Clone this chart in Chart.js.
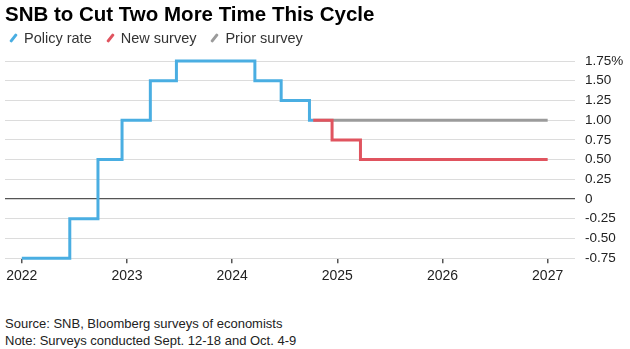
<!DOCTYPE html>
<html>
<head>
<meta charset="utf-8">
<script src="https://cdn.jsdelivr.net/npm/chart.js@4.4.1/dist/chart.umd.min.js"></script>
<style>
  body { margin: 0; background: #fff; font-family: "Liberation Sans", Arial, sans-serif; }
  #wrap { position: relative; width: 630px; height: 290px; }
  #title { position: absolute; left: 5px; top: 2px; font-size: 20.5px; font-weight: bold; color: #000; }
  #legend { position: absolute; left: 9px; top: 30px; font-size: 14.5px; color: #333; display: flex; }
  #legend span.item { display: flex; align-items: center; margin-right: 14px; }
  #legend i { display: inline-block; width: 3px; height: 10px; margin: 0 9px 0 3px; transform: rotate(38deg); border-radius: 1px; }
  #foot { position: absolute; left: 5px; top: 315px; font-size: 13px; line-height: 17px; color: #222; }
</style>
</head>
<body>
<div id="wrap"><canvas id="chart"></canvas></div>
<div id="title">SNB to Cut Two More Time This Cycle</div>
<div id="legend"></div>
<div id="foot">Source: SNB, Bloomberg surveys of economists<br>Note: Surveys conducted Sept. 12-18 and Oct. 4-9</div>
<script>
// policy rate steps (decimal years)
const policyDates = [2022.0, 2022.456, 2022.724, 2022.953, 2023.222, 2023.47, 2024.216, 2024.466, 2024.735, 2024.77];
const policyRates = [-0.75, -0.25, 0.5, 1.0, 1.5, 1.75, 1.5, 1.25, 1.0, 1.0];

const newDates = [2024.77, 2024.95, 2025.22, 2027.0];
const newRates = [1.0, 0.75, 0.5, 0.5];

const priorDates = [2024.77, 2027.0];
const priorRates = [1.0, 1.0];

const years = [2022, 2023, 2024, 2025, 2026, 2027];
const yTicks = [-0.75, -0.5, -0.25, 0, 0.25, 0.5, 0.75, 1.0, 1.25, 1.5, 1.75];

const labels = ["Policy rate", "New survey", "Prior survey"];
const colors = ["#4aaee2", "#e0545f", "#9b9b9b"];

const toPoints = (xs, ys) => xs.map((x, i) => ({ x: x, y: ys[i] }));

// legend
const legend = document.getElementById("legend");
labels.forEach((l, i) => {
  const s = document.createElement("span");
  s.className = "item";
  s.innerHTML = '<i style="background:' + colors[i] + '"></i>' + l;
  legend.appendChild(s);
});

new Chart(document.getElementById("chart"), {
  type: "line",
  data: {
    datasets: [
      { label: labels[0], data: toPoints(policyDates, policyRates), borderColor: colors[0] },
      { label: labels[1], data: toPoints(newDates, newRates), borderColor: colors[1] },
      { label: labels[2], data: toPoints(priorDates, priorRates), borderColor: colors[2] }
    ]
  },
  options: {
    responsive: true,
    maintainAspectRatio: false,
    animation: false,
    layout: { padding: { left: 5, right: 0, top: 61, bottom: 0 } },
    elements: {
      line: { borderWidth: 3, stepped: true, borderCapStyle: "butt", borderJoinStyle: "miter" },
      point: { radius: 0 }
    },
    datasets: { line: { clip: 4 } },
    plugins: {
      legend: { display: false },
      tooltip: { enabled: false }
    },
    scales: {
      x: {
        type: "linear",
        min: 2021.84,
        max: 2027.26,
        afterBuildTicks: (axis) => { axis.ticks = years.map(v => ({ value: v })); },
        grid: { drawOnChartArea: false, drawTicks: true, tickLength: 5, color: "#555", lineWidth: 1.5 },
        border: { display: false },
        ticks: {
          color: "#222",
          font: { family: "Liberation Sans", size: 14 },
          padding: 5,
          maxRotation: 0,
          callback: (v) => String(v)
        }
      },
      y: {
        position: "right",
        min: -0.75,
        max: 1.75,
        afterBuildTicks: (axis) => { axis.ticks = yTicks.map(v => ({ value: v })); },
        afterFit: (axis) => { axis.width = 55; },
        grid: {
          drawTicks: false,
          color: (ctx) => ctx.tick && ctx.tick.value === 0 ? "#555" : "#dcdcdc",
          lineWidth: (ctx) => ctx.tick && ctx.tick.value === 0 ? 1.3 : 1
        },
        border: { display: false },
        ticks: {
          color: "#222",
          font: { family: "Liberation Sans", size: 13.5 },
          padding: 10,
          callback: (v) => v === 1.75 ? "1.75%" : (v === 0 ? "0" : v.toFixed(2))
        }
      }
    }
  }
});
</script>
</body>
</html>
